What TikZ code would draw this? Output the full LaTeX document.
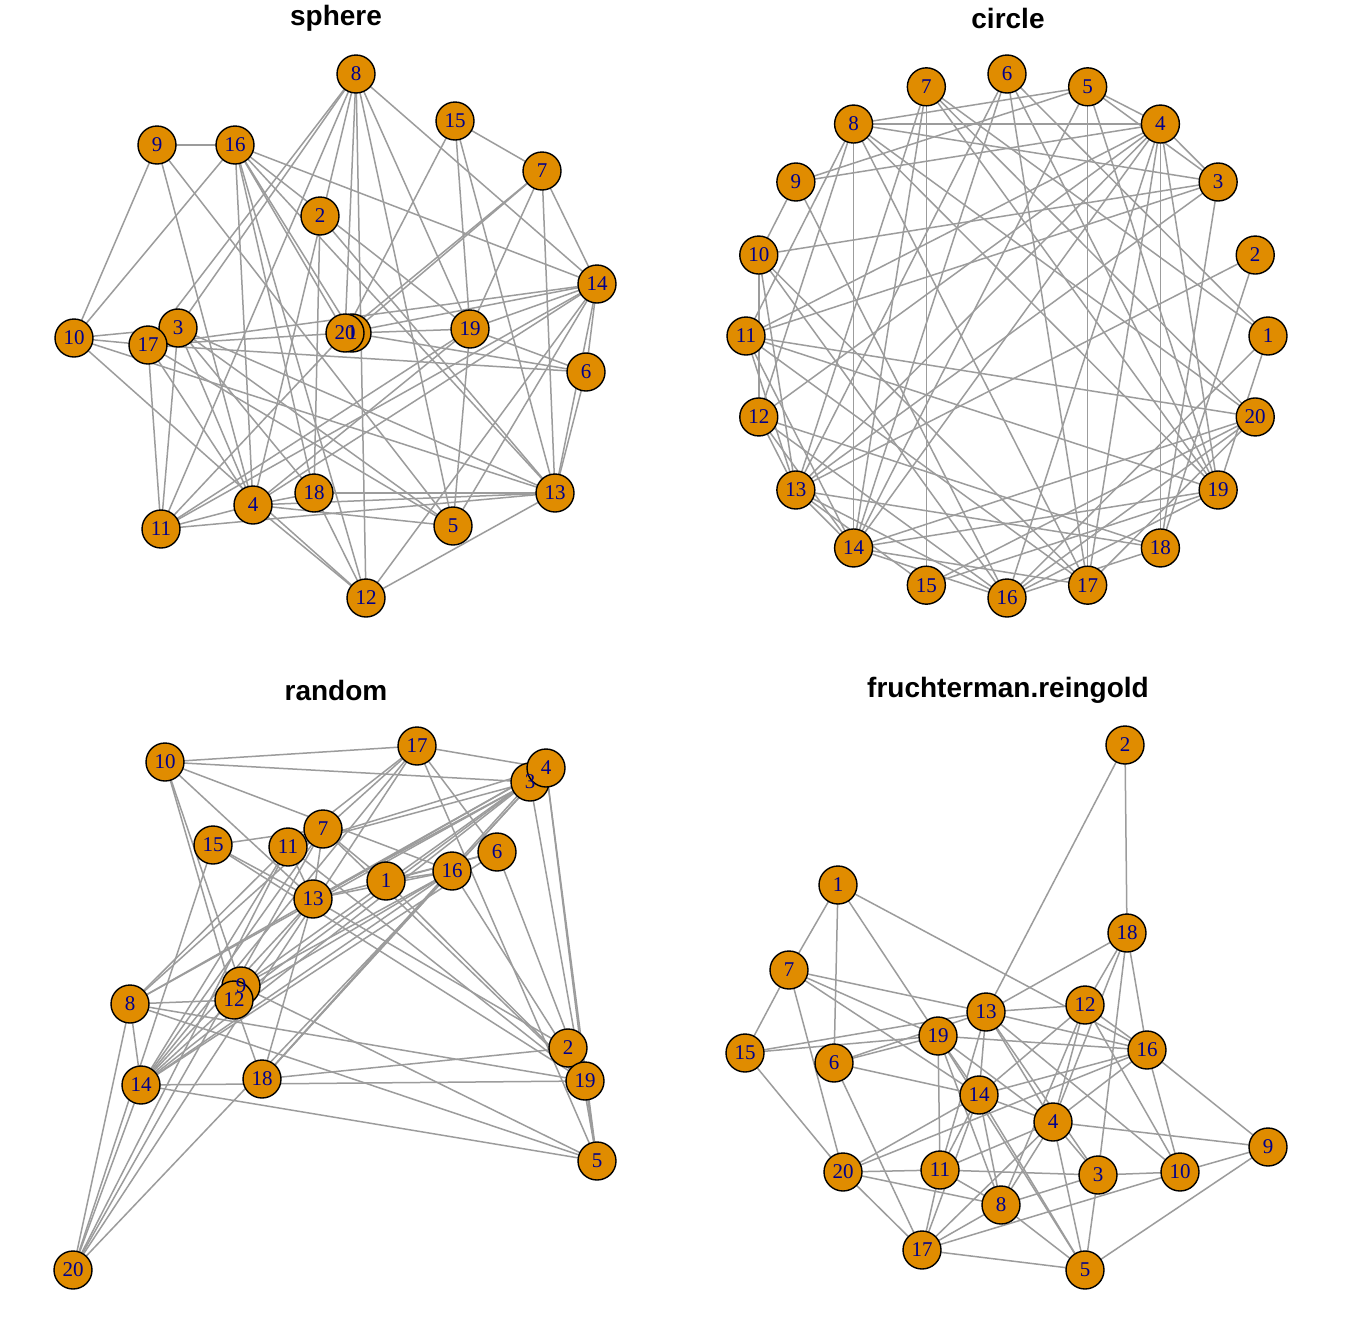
\documentclass[tikz,border=0pt]{standalone}
\usepackage{fontspec}
\setmainfont{Liberation Serif}
\newfontfamily\titlefont{Liberation Sans}
\definecolor{vfill}{HTML}{E08C00}
\definecolor{vtext}{HTML}{00008B}
\definecolor{egray}{HTML}{9C9C9C}
\begin{document}
\begin{tikzpicture}[x=0.5pt,y=-0.5pt,
  edge/.style={draw=egray,line width=0.75pt},
  vert/.style={circle,draw=black,fill=vfill,line width=0.7pt,minimum size=19pt,inner sep=0pt},
  lab/.style={text=vtext,font=\fontsize{10.5}{12}\selectfont,inner sep=0pt},
  ttl/.style={font=\titlefont\bfseries\fontsize{14}{16}\selectfont}]
\path[use as bounding box,fill=white] (0,0) rectangle (1344,1344);
% sphere
\foreach \k/\x/\y in {1/352/333,2/320/216,3/178/328,4/253/505,5/453/526,6/586/372,7/542/171,8/356/74,9/157/145,10/74/338,11/161/529,12/366/598,13/555/493,14/597/284,15/455/121,16/235/145,17/148/345,18/314/493,19/470/329,20/345/333}
  {\coordinate (s\k) at (\x,\y);}
% circle
\foreach \k in {1,...,20}
  {\coordinate (c\k) at ({1007+261*cos(18*(\k-1))},{336-262*sin(18*(\k-1))});}
% random
\foreach \k/\x/\y in {1/386/881,2/568/1048,3/530/782,4/546/768,5/597/1161,6/497/852,7/323/829,8/130/1004,9/241/986,10/165/762,11/288/847,12/234/1000,13/313/899,14/141/1085,15/213/845,16/452/871,17/417/746,18/262/1079,19/585/1081,20/73/1270}
  {\coordinate (r\k) at (\x,\y);}
% fruchterman.reingold
\foreach \k/\x/\y in {1/838/885,2/1125/745,3/1098/1175,4/1053/1122,5/1085/1270,6/834/1063,7/789/970,8/1001/1205,9/1268/1147,10/1180/1172,11/940/1170,12/1085/1005,13/986/1012,14/979/1095,15/745/1053,16/1147/1050,17/922/1250,18/1127/933,19/938/1036,20/843/1172}
  {\coordinate (f\k) at (\x,\y);}
\def\edgelist{1/6,1/7,1/16,1/19,2/13,2/18,3/4,3/5,3/8,3/10,3/11,3/13,3/18,4/5,4/8,4/9,4/11,4/12,4/13,4/14,4/16,4/17,4/18,4/19,5/8,5/9,5/14,5/17,5/19,6/13,6/14,6/17,6/19,7/13,7/14,7/15,7/19,7/20,8/11,8/12,8/14,8/17,8/19,8/20,9/10,9/16,10/12,10/13,10/16,10/17,11/14,11/17,11/19,11/20,12/13,12/14,12/16,12/18,13/14,13/15,13/16,13/18,11/13,14/16,14/17,14/20,14/19,15/19,15/20,16/18,16/19,16/20,17/20}
\foreach \p in {s,c,r,f}{
  \foreach \a/\b in \edgelist {\draw[edge] (\p\a) -- (\p\b);}
}
\foreach \p in {s,c,r,f}{
  \foreach \k in {1,...,20} {\node[vert] (\p\k v) at (\p\k) {};}
}
\foreach \p in {s,c,r,f}{
  \foreach \k in {1,...,20} {\node[lab] (\p\k t) at (\p\k) {\k};}
}
\node[ttl] (t1) at (336,18) {sphere};
\node[ttl] (t2) at (1008,18) {circle};
\node[ttl] (t3) at (336,690) {random};
\node[ttl] (t4) at (1008,690) {fruchterman.reingold};
\end{tikzpicture}
\end{document}
